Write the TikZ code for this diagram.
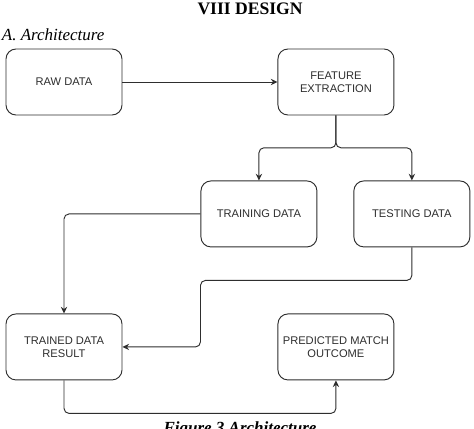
\documentclass[tikz,border=0pt]{standalone}
\usepackage{fontspec}
\setmainfont{Liberation Serif}
\newfontfamily\boxfont{Liberation Sans}
\usetikzlibrary{arrows.meta, positioning}
\definecolor{linegray}{HTML}{2E2E2E}
\begin{document}
\begin{tikzpicture}[
    node distance=1.95cm and 1.08cm,
    block/.style={rectangle, rounded corners=0.3cm, draw=linegray, line width=0.8pt, fill=white, align=center, minimum width=3.48cm, minimum height=1.98cm, inner sep=1pt, text=linegray, font=\boxfont\fontsize{9.5}{10.8}\selectfont},
    heading/.style={inner sep=0pt, anchor=base},
    arrow/.style={draw=linegray, line width=0.8pt, rounded corners=0.15cm, -{Stealth[length=2mm, width=1.9mm]}}
]
    \useasboundingbox[fill=white] (0,0) rectangle (14.22,-12.87);
    \node[heading, font=\bfseries\fontsize{15}{18}\selectfont] (title) at (7.5,-0.42) {VIII DESIGN};
    \node[heading, anchor=base west, font=\itshape\fontsize{14.5}{17}\selectfont] (sub) at (0.05,-1.22) {A. Architecture};
    \node[block] (raw) at (1.92,-2.46) {RAW DATA};
    \node[block, right=4.65cm of raw] (feat) {FEATURE\\EXTRACTION};
    \node[block, below=of feat, xshift=-2.31cm] (train) {TRAINING DATA};
    \node[block, right=of train] (test) {TESTING DATA};
    \node[block, below=5.94cm of raw] (trained) {TRAINED DATA\\RESULT};
    \node[block, below=5.94cm of feat] (pred) {PREDICTED MATCH\\OUTCOME};
    \node[heading, font=\bfseries\itshape\fontsize{14.5}{17}\selectfont] (cap) at (7.2,-12.99) {Figure 3 Architecture};

    \draw[arrow] (raw) -- (feat);
    \draw[arrow] (feat.south) -- ++(0,-0.97) -| (train.north);
    \draw[arrow] (feat.south) -- ++(0,-0.97) -| (test.north);
    \draw[arrow] (train.west) -| (trained.north);
    \draw[arrow] (test.south) -- ++(0,-0.99) -| ([xshift=2.34cm]trained.east) -- (trained.east);
    \draw[arrow] (trained.south) -- ++(0,-0.99) -| (pred.south);
\end{tikzpicture}
\end{document}
